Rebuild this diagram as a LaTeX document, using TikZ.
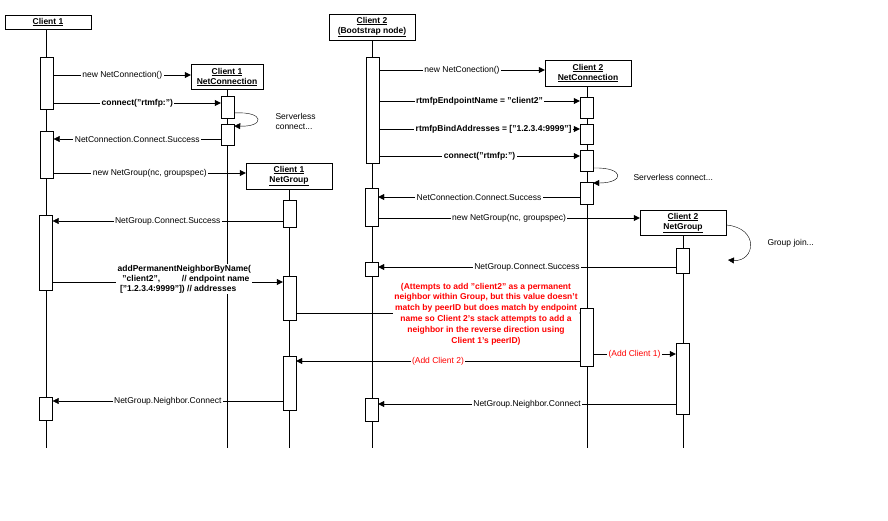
\documentclass[tikz,border=0pt]{standalone}
\usepackage{fontspec}
\setmainfont{Liberation Sans}
\usetikzlibrary{arrows.meta}
\begin{document}
\begin{tikzpicture}[x=1pt,y=-1pt,font=\fontsize{8.5}{10}\selectfont,
  obj/.style={draw,fill=white,minimum width=86pt,minimum height=14pt,inner sep=1pt,align=center,font=\fontsize{8.5}{10}\selectfont\bfseries},
  act/.style={draw,fill=white,minimum width=13pt,inner sep=0pt},
  msg/.style={-{Triangle[length=6pt,width=6pt]}},
  lbl/.style={fill=white,inner sep=1.5pt},
  life/.style={line width=0.5pt}]
\useasboundingbox (0,0) rectangle (888,521);
% objects
\node[obj] (c1) at (48,22) {\underline{Client 1}};
\node[obj,minimum height=26pt] (c2) at (372,27) {\underline{Client 2}\\\underline{(Bootstrap node)}};
\node[obj,minimum width=72pt,minimum height=25pt] (c1nc) at (227,77) {\underline{Client 1}\\\underline{NetConnection}};
\node[obj,minimum height=26pt] (c2nc) at (588,73) {\underline{Client 2}\\\underline{NetConnection}};
\node[obj,minimum height=26pt] (c1ng) at (289,176) {\underline{Client 1}\\\underline{NetGroup}};
\node[obj,minimum height=25pt] (c2ng) at (683,223) {\underline{Client 2}\\\underline{NetGroup}};
% lifelines
\coordinate (e1) at (46,448); \coordinate (e2) at (227,448); \coordinate (e3) at (289,448);
\coordinate (e4) at (372,448); \coordinate (e5) at (587,448); \coordinate (e6) at (683,448);
\draw[life] (c1.south -| e1) -- (e1);
\draw[life] (c1nc) -- (e2);
\draw[life] (c1ng) -- (e3);
\draw[life] (c2) -- (e4);
\draw[life] (c2nc.south -| e5) -- (e5);
\draw[life] (c2ng) -- (e6);
% activations
\node[act,minimum height=52pt] (a1) at (47,83) {};
\node[act,minimum height=47pt] (a2) at (47,154.5) {};
\node[act,minimum height=75pt] (a3) at (46,252.5) {};
\node[act,minimum height=23pt] (a4) at (46,408.5) {};
\node[act,minimum height=22pt] (b1) at (227.5,107) {};
\node[act,minimum height=21pt] (b2) at (227.5,134.5) {};
\node[act,minimum height=27pt] (g1) at (289.5,213.5) {};
\node[act,minimum height=44pt] (g2) at (289.5,298) {};
\node[act,minimum height=54pt] (g3) at (289.5,383) {};
\node[act,minimum height=106pt] (d1) at (372.5,110) {};
\node[act,minimum height=38pt] (d2) at (371.5,207) {};
\node[act,minimum height=14pt] (d3) at (371.5,269) {};
\node[act,minimum height=23pt] (d4) at (371.5,409.5) {};
\node[act,minimum height=21pt] (n1) at (586.5,107.5) {};
\node[act,minimum height=20pt] (n2) at (586.5,134) {};
\node[act,minimum height=21pt] (n3) at (586.5,160.5) {};
\node[act,minimum height=22pt] (n4) at (586.5,193) {};
\node[act,minimum height=58pt] (n5) at (586.5,337) {};
\node[act,minimum height=25pt] (h1) at (682.5,260.5) {};
\node[act,minimum height=71pt] (h2) at (682.5,378.5) {};
% Client 1 messages
\draw[msg] (a1.east |- 0,75) -- node[lbl]{new NetConnection()} (c1nc.west |- 0,75);
\draw[msg] (a1.east |- 0,103) -- node[lbl,font=\fontsize{8.5}{10}\selectfont\bfseries]{connect("rtmfp:")} (b1.west |- 0,103);
\draw[msg] (b1.east |- 0,113) .. controls (265,111) and (265,127) .. (b2.east |- 0,126);
\node[align=left,anchor=west] (sc1) at (272,121) {Serverless\\connect...};
\draw[msg] (b2.west |- 0,139) -- node[lbl]{NetConnection.Connect.Success} (a2.east |- 0,139);
\draw[msg] (a2.east |- 0,173) -- node[lbl]{new NetGroup(nc, groupspec)} (c1ng.west |- 0,173);
\draw[msg] (g1.west |- 0,221) -- node[lbl]{NetGroup.Connect.Success} (a3.east |- 0,221);
\draw[msg] (a3.east |- 0,282) -- (g2.west |- 0,282);
\node[lbl,align=left,anchor=west,font=\fontsize{8.5}{10}\selectfont\bfseries] (apn) at (116,279) {addPermanentNeighborByName(\\\ \ "client2",\qquad\ \ // endpoint name\\\ ["1.2.3.4:9999"]) // addresses};
\draw[msg] (g2.east |- 0,313) -- (n5.west |- 0,313);
\node[lbl,align=center,text=red,font=\fontsize{8.5}{10.8}\selectfont\bfseries] (note) at (486,314) {(Attempts to add "client2" as a permanent\\neighbor within Group, but this value doesn't\\match by peerID but does match by endpoint\\name so Client 2's stack attempts to add a\\neighbor in the reverse direction using\\Client 1's peerID)};
\draw[msg] (n5.west |- 0,361) -- node[lbl,text=red]{(Add Client 2)} (g3.east |- 0,361);
\draw[msg] (n5.east |- 0,354) -- node[lbl,text=red]{(Add Client 1)} (h2.west |- 0,354);
\draw[msg] (g3.west |- 0,401) -- node[lbl]{NetGroup.Neighbor.Connect} (a4.east |- 0,401);
% Client 2 messages
\draw[msg] (d1.east |- 0,70) -- node[lbl]{new NetConection()} (c2nc.west |- 0,70);
\draw[msg] (d1.east |- 0,101) -- node[lbl,font=\fontsize{8.5}{10}\selectfont\bfseries]{rtmfpEndpointName = "client2"} (n1.west |- 0,101);
\draw[msg] (d1.east |- 0,129) -- node[lbl,font=\fontsize{8.5}{10}\selectfont\bfseries,pos=0.57]{rtmfpBindAddresses = ["1.2.3.4:9999"]} (n2.west |- 0,129);
\draw[msg] (d1.east |- 0,156) -- node[lbl,font=\fontsize{8.5}{10}\selectfont\bfseries]{connect("rtmfp:")} (n3.west |- 0,156);
\draw[msg] (n3.east |- 0,168) .. controls (625,167) and (625,183) .. (n4.east |- 0,183);
\node[anchor=west] (sc2) at (630,177) {Serverless connect...};
\draw[msg] (n4.west |- 0,197) -- node[lbl]{NetConnection.Connect.Success} (d2.east |- 0,197);
\draw[msg] (d2.east |- 0,218) -- node[lbl]{new NetGroup(nc, groupspec)} (c2ng.west |- 0,218);
\draw[msg] (c2ng.east |- 0,225) .. controls (760,228) and (755,262) .. (728,260);
\node[anchor=west] (gj) at (764,243) {Group join...};
\draw[msg] (h1.west |- 0,267) -- node[lbl]{NetGroup.Connect.Success} (d3.east |- 0,267);
\draw[msg] (h2.west |- 0,404) -- node[lbl]{NetGroup.Neighbor.Connect} (d4.east |- 0,404);
\end{tikzpicture}
\end{document}
